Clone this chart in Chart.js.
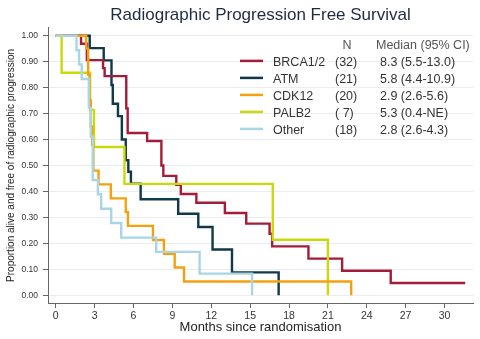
<!DOCTYPE html>
<html>
<head>
<meta charset="utf-8">
<script src="https://cdn.jsdelivr.net/npm/chart.js@4/dist/chart.umd.min.js"></script>
<style>
  html,body{margin:0;padding:0;background:#fff;}
  #wrap{width:480px;height:339px;}
</style>
</head>
<body>
<div id="wrap"><canvas id="pfs"></canvas></div>
<script>
// Kaplan-Meier steps per mutation group: month of each drop and survival after it
const groups = ['BRCA1/2', 'ATM', 'CDK12', 'PALB2', 'Other'];
const counts = ['(32)', '(21)', '(20)', '( 7)', '(18)'];
const medians = ['8.3 (5.5-13.0)', '5.8 (4.4-10.9)', '2.9 (2.6-5.6)', '5.3 (0.4-NE)', '2.8 (2.6-4.3)'];
const colors = ['#a51c3a', '#10394a', '#f5a10f', '#c9d90c', '#a9d6e5'];

const brcaMonths = [0, 1.95, 2.4, 3.65, 3.77, 5.44, 5.55, 7.05, 8.15, 8.3, 9.3, 9.65, 10.85, 13.05, 14.7, 16.5, 16.7, 19.5, 22.1, 25.85, 31.6];
const brcaSurv   = [1, 0.969, 0.906, 0.875, 0.844, 0.72, 0.625, 0.594, 0.5, 0.46, 0.425, 0.39, 0.356, 0.317, 0.276, 0.237, 0.188, 0.141, 0.094, 0.047, 0.047];

const atmMonths = [0, 2.62, 3.7, 4.3, 4.4, 4.8, 5.1, 5.4, 5.6, 5.8, 6.55, 9.45, 11.0, 12.1, 13.6, 17.2];
const atmSurv   = [1, 0.952, 0.905, 0.81, 0.738, 0.69, 0.6, 0.52, 0.476, 0.43, 0.37, 0.314, 0.263, 0.176, 0.088, 0];

const cdkMonths = [0, 2.35, 2.5, 2.6, 2.7, 2.8, 2.9, 3.3, 4.25, 5.4, 5.57, 7.5, 8.35, 9.18, 9.9, 22.8];
const cdkSurv   = [1, 0.95, 0.85, 0.75, 0.65, 0.58, 0.48, 0.427, 0.373, 0.32, 0.267, 0.213, 0.16, 0.107, 0.053, 0];

const palbMonths = [0, 0.45, 2.65, 2.95, 5.3, 16.75, 21.0];
const palbSurv   = [1, 0.857, 0.714, 0.571, 0.429, 0.214, 0];

const otherMonths = [0, 1.6, 1.8, 2.0, 2.55, 2.7, 2.85, 3.25, 3.5, 4.28, 5.05, 7.75, 11.1, 15.15];
const otherSurv   = [1, 0.944, 0.889, 0.833, 0.722, 0.611, 0.444, 0.389, 0.333, 0.278, 0.222, 0.167, 0.083, 0];

const xTicks = [0, 3, 6, 9, 12, 15, 18, 21, 24, 27, 30];
const yTicks = [0, 0.1, 0.2, 0.3, 0.4, 0.5, 0.6, 0.7, 0.8, 0.9, 1.0];

const series = [[brcaMonths, brcaSurv], [atmMonths, atmSurv], [cdkMonths, cdkSurv], [palbMonths, palbSurv], [otherMonths, otherSurv]];
// later groups sit on top where curves overlap at 1.00
const drawOrder = [3, 4, 1, 2, 0];

const FONT = '"Liberation Sans", Arial, Helvetica, sans-serif';
Chart.defaults.font.family = FONT;

// N / median table drawn inside the plot, top right
const legendTable = {
  id: 'legendTable',
  afterDraw(chart) {
    const {ctx, chartArea: area} = chart;
    const lineX = area.right - 233, nameX = area.right - 200, nX = area.right - 138, medX = area.right - 93;
    ctx.save();
    ctx.font = '12.5px ' + FONT;
    ctx.textBaseline = 'middle';
    ctx.fillStyle = '#555';
    ctx.textAlign = 'center';
    ctx.fillText('N', nX + 12, area.top + 18);
    ctx.textAlign = 'left';
    ctx.fillText('Median (95% CI)', medX - 4, area.top + 18);
    groups.forEach((name, i) => {
      const y = area.top + 33 + i * 17;
      ctx.strokeStyle = colors[i];
      ctx.lineWidth = 2.5;
      ctx.beginPath();
      ctx.moveTo(lineX, y);
      ctx.lineTo(lineX + 23, y);
      ctx.stroke();
      ctx.fillStyle = '#333';
      ctx.fillText(name, nameX, y + 1.5);
      ctx.fillText(counts[i], nX, y + 1.5);
      ctx.fillText(medians[i], medX, y + 1.5);
    });
    ctx.restore();
  }
};

new Chart(document.getElementById('pfs'), {
  type: 'line',
  data: {
    datasets: series.map(([months, surv], i) => ({
      label: groups[i],
      data: months.map((m, j) => ({x: m, y: surv[j]})),
      borderColor: colors[i],
      borderWidth: 2.4,
      stepped: 'before',
      pointRadius: 0,
      fill: false,
      order: drawOrder[i]
    }))
  },
  options: {
    responsive: true, maintainAspectRatio: false, animation: false,
    layout: {padding: {right: 7}},
    plugins: {
      legend: {display: false},
      tooltip: {enabled: false},
      title: {
        display: true, fullSize: false,
        text: 'Radiographic Progression Free Survival',
        color: '#1f2a44',
        font: {size: 17, weight: 'normal'},
        padding: {top: 5, bottom: 2.5}
      }
    },
    scales: {
      x: {
        type: 'linear', min: -0.6, max: 32.2,
        afterBuildTicks: axis => { axis.ticks = xTicks.map(v => ({value: v})); },
        afterFit: axis => { axis.height = 36; },
        grid: {drawOnChartArea: false, drawTicks: true, tickLength: 5, tickColor: '#666'},
        border: {color: '#666', width: 1},
        ticks: {color: '#333', font: {size: 10.5}, padding: 2, maxRotation: 0},
        title: {display: true, text: 'Months since randomisation', color: '#222', font: {size: 13}, padding: {top: 0, bottom: 4}}
      },
      y: {
        min: -0.03, max: 1.03,
        afterBuildTicks: axis => { axis.ticks = yTicks.map(v => ({value: v})); },
        afterFit: axis => { axis.width = 48; },
        grid: {color: '#e9eff1', lineWidth: 1, drawTicks: true, tickLength: 5, tickColor: '#666'},
        border: {color: '#666', width: 1},
        ticks: {color: '#333', font: {size: 8.5}, padding: 5, callback: v => Number(v).toFixed(2)},
        title: {display: true, text: 'Proportion alive and free of radiographic progression', color: '#222', font: {size: 10}, padding: {top: 5, bottom: 0}}
      }
    }
  },
  plugins: [legendTable]
});
</script>
</body>
</html>
